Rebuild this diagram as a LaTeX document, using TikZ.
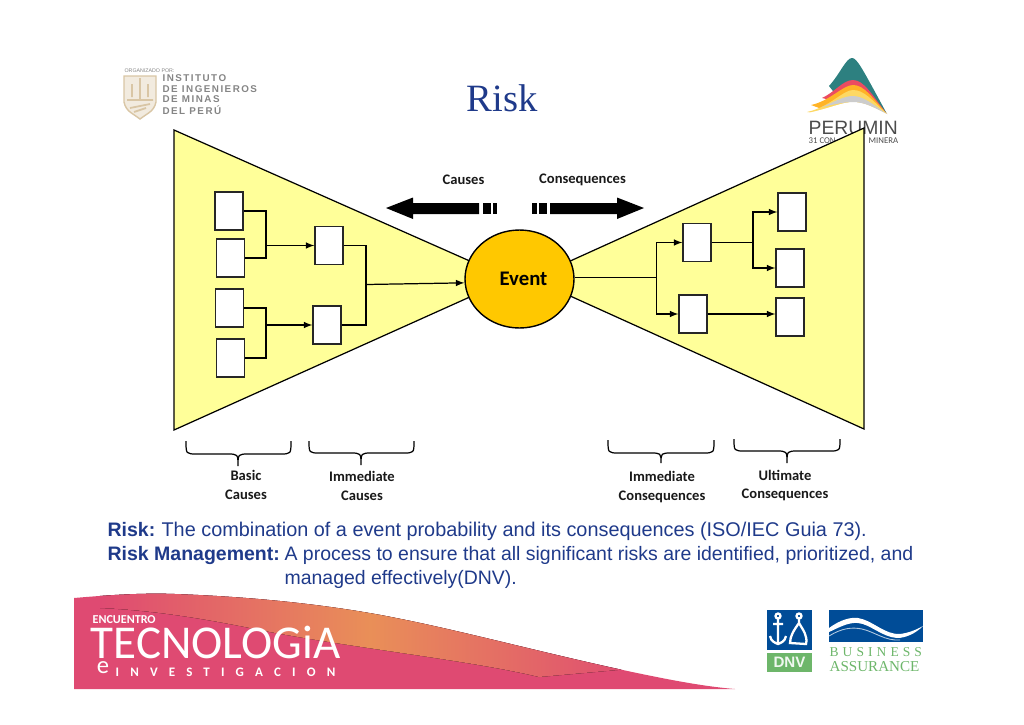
\documentclass[tikz,border=0pt]{standalone}
\usepackage{fontspec}
\usepackage{xcolor}
\usetikzlibrary{positioning,shapes,calc}
\setmainfont{Liberation Sans}
\newfontfamily\calfont{Carlito}
\newfontfamily\serfont{Liberation Serif}
\newfontfamily\logofont[LetterSpace=15]{Liberation Sans}
\newfontfamily\wavefont[LetterSpace=86]{Carlito}
\newfontfamily\busfont[LetterSpace=30]{Liberation Serif}
\definecolor{wedgeyellow}{HTML}{FFFF99}
\definecolor{eventgold}{HTML}{FFC800}
\definecolor{navytext}{HTML}{1F3A8A}
\definecolor{logogray}{HTML}{858585}
\definecolor{cresttan}{HTML}{D9C6A5}
\definecolor{bandpink}{HTML}{DF4A72}
\definecolor{bandorange}{HTML}{E98F58}
\definecolor{dnvblue}{HTML}{004C97}
\definecolor{dnvgreen}{HTML}{6DB66A}
\tikzset{
  wedge/.style={draw=black, line width=0.7pt, fill=wedgeyellow},
  riskbox/.style={draw=black!85, line width=0.7pt, fill=white, rectangle, inner sep=0pt,
    minimum width=0.56cm, minimum height=0.76cm},
  lbl/.style={font=\calfont\bfseries\fontsize{8.3}{10}\selectfont, align=center, text=black!90},
  body/.style={anchor=base west, inner sep=0pt, text=navytext, font=\fontsize{11.08}{13}\selectfont},
  bodyb/.style={body, font=\bfseries\fontsize{11.1}{13}\selectfont},
  insttext/.style={anchor=west, inner sep=0pt, text=logogray, font=\logofont\bfseries\fontsize{5.6}{6}\selectfont}
}

\begin{document}
\begin{tikzpicture}[x=0.02cm, y=-0.02cm, >=latex, line width=0.7pt]
  \useasboundingbox (0,0) rectangle (1024,724);
  \node[text=navytext, font=\serfont\fontsize{22}{26}\selectfont, inner sep=0pt] (title) at (502,98) {Risk};

  % instituto logo
  \filldraw[draw=cresttan, fill=cresttan!35, line width=0.8pt] (124,76) -- (156,76) -- (156,102)
     .. controls (154,112) and (146,114) .. (140,119) .. controls (134,114) and (126,112) .. (124,102) -- cycle;
  \draw[cresttan, line width=1pt] (140,78) -- (140,100) (127,100) -- (153,100)
     (132,84) -- (132,97) (148,84) -- (148,97) (130,108) -- (150,104) (134,112) -- (146,108);
  \node[inner sep=0pt, text=logogray, anchor=west, font=\fontsize{3}{3}\selectfont] (orgby) at (124,70.5) {ORGANIZADO POR:};
  \node[insttext] (insta) at (162,78) {INSTITUTO};
  \node[insttext] (instb) at (162,89) {DE INGENIEROS};
  \node[insttext] (instc) at (162,99.5) {DE MINAS};
  \node[insttext] (instd) at (162,110) {DEL PERÚ};

  % perumin logo
  \fill[teal!65!gray] (852,58) .. controls (857,58) and (862,68) .. (887,114) -- (840,100) -- (829,86)
     .. controls (840,74) and (846,58) .. (852,58) -- cycle;
  \fill[red!55!purple!70] (822,98) .. controls (835,92) and (843,80) .. (853,80) .. controls (864,80) and (872,95) .. (887,114) -- cycle;
  \fill[orange!70!yellow!85] (811,105) .. controls (830,101) and (843,85) .. (853,85) .. controls (864,85) and (872,97) .. (887,114) -- (830,112) -- cycle;
  \fill[yellow!55!orange!60] (807,112) .. controls (830,107) and (843,90) .. (853,90) .. controls (864,90) and (872,100) .. (887,114) -- (830,115) -- cycle;
  \fill[white] (800,116) -- (812,112) .. controls (830,108) and (843,102) .. (853,102) .. controls (865,102) and (875,108) .. (887,114) -- (890,118) -- cycle;
  \fill[black!20] (822,107) .. controls (832,103) and (843,96) .. (853,96) .. controls (864,96) and (875,106) .. (887,114)
     .. controls (875,108) and (865,102) .. (853,102) .. controls (843,102) and (832,105) .. (822,107) -- cycle;
  \node[inner sep=0pt, text=black!70, font=\fontsize{11}{12}\selectfont, anchor=west] (perumin) at (808,127.5) {PERUMIN};
  \node[inner sep=0pt, text=black!70, font=\calfont\fontsize{5}{6}\selectfont, anchor=west] (perumina) at (808,141) {31 CON};
  \node[inner sep=0pt, text=black!70, font=\calfont\fontsize{5}{6}\selectfont, anchor=west] (peruminb) at (868,141) {MINERA};

  % bow tie
  \draw[wedge] (174,130) -- (472,262) -- (472,296) -- (174,430) -- cycle;
  \draw[wedge] (864,128) -- (568,262) -- (568,295) -- (864,429) -- cycle;
  \node[draw=black, line width=0.8pt, fill=eventgold, ellipse, inner sep=0pt, minimum width=2.18cm, minimum height=1.96cm] (event) at (519.5,279) {};
  \node[font=\calfont\bfseries\fontsize{11.8}{14}\selectfont, inner sep=0pt] (eventlbl) at (523.5,278.5) {Event};

  % direction arrows
  \node[lbl] (causes) at (463.5,180) {Causes};
  \node[lbl] (conseq) at (582.5,180) {Consequences};
  \fill (386,208) -- (413,197.5) -- (413,203) -- (479,203) -- (479,214) -- (413,214) -- (413,219) -- cycle;
  \fill (644,208) -- (617,197.5) -- (617,203) -- (550,203) -- (550,214) -- (617,214) -- (617,219) -- cycle;
  \foreach \xa/\xb in {483/491,493/497,532/537,539/547}
    \fill (\xa,203) rectangle (\xb,214);

  % left boxes
  \node[riskbox] (bca) at (229,211) {};
  \node[riskbox] (bcb) at (230.5,258) {};
  \node[riskbox] (bcc) at (229.5,308) {};
  \node[riskbox] (bcd) at (230.5,358) {};
  \node[riskbox] (ica) at (329,245.5) {};
  \node[riskbox] (icb) at (327,325) {};
  \coordinate (jtop) at (266,245.5);
  \coordinate (jbot) at (266,325);
  \coordinate (jcause) at (366,284.5);
  \draw (bca.east) -| (jtop);
  \draw (bcb.east) -| (jtop);
  \draw (bcc.east) -| (jbot);
  \draw (bcd.east) -| (jbot);
  \draw[->] (jtop) -- (ica.west);
  \draw[->] (jbot) -- (icb.west);
  \draw (ica.east) -| (jcause);
  \draw (icb.east) -| (jcause);
  \draw[->] (jcause) -- (event.184);

  % right boxes
  \node[riskbox] (ra) at (697,242.5) {};
  \node[riskbox] (rb) at (693,314) {};
  \node[riskbox] (ua) at (792,212) {};
  \node[riskbox] (ub) at (790,268) {};
  \node[riskbox] (uc) at (790,317) {};
  \coordinate (jevent) at (656.5,277.5);
  \coordinate (jra) at (753,242.5);
  \draw (event.east |- jevent) -- (jevent);
  \draw[->] (jevent) |- (ra.west);
  \draw[->] (jevent) |- (rb.west);
  \draw (ra.east) -- (jra);
  \draw[->] (jra) |- (ua.west);
  \draw[->] (jra) |- (ub.west);
  \draw[->] (rb.east) -- (uc.west |- rb.east);

  % braces
  \foreach \xa/\xt/\xb/\ya/\yb/\yc in {186/238/291/441/454/466,309/361/414/441/453/465,608/661/714/440/453/463,734/787/840/439/451/463}
    \draw (\xa,\ya) .. controls (\xa,\yb) .. (\xa+11,\yb) -- (\xt-11,\yb) .. controls (\xt,\yb) .. (\xt,\yc)
       .. controls (\xt,\yb) .. (\xt+11,\yb) -- (\xb-11,\yb) .. controls (\xb,\yb) .. (\xb,\ya);
  \node[lbl] (basic) at (246,484.5) {Basic\\[0.8pt]Causes};
  \node[lbl] (imm) at (362,485.5) {Immediate\\[0.8pt]Causes};
  \node[lbl] (immc) at (662,487) {Immediate\\[0.8pt]Consequences};
  \node[lbl] (ult) at (785,485.5) {Ultimate\\[0.8pt]Consequences};

  % definitions
  \node[bodyb] (riska) at (107,536) {Risk:};
  \node[body, font=\fontsize{11.3}{13}\selectfont] (riskb) at (161,536) {The combination of a event probability and its consequences (ISO/IEC Guia 73).};
  \node[bodyb] (mgmta) at (107,560) {Risk Management:};
  \node[body] (mgmtb) at (284,560) {A process to ensure that all significant risks are identified, prioritized, and};
  \node[body] (mgmtc) at (284,584) {managed effectively(DNV).};

  % footer band
  \begin{scope}
    \clip (74,689) -- (74,598) .. controls (120,594) and (150,593) .. (175,594) .. controls (260,597) and (340,606) .. (406,620)
       .. controls (470,633) and (560,657) .. (637,673) .. controls (680,682) and (710,687) .. (735,689) -- cycle;
    \fill[bandpink] (60,590) rectangle (740,690);
    \fill[left color=bandpink, right color=bandpink, middle color=bandorange] (100,590) -- (640,590) -- (640,668)
       -- (539,677) .. controls (470,660) and (330,645) .. (250,628) .. controls (200,618) and (150,610) .. (100,608) -- cycle;
  \end{scope}
  \node[text=white, inner sep=0pt, anchor=west, font=\calfont\bfseries\fontsize{6.9}{8}\selectfont] (enc) at (92,619.5) {ENCUENTRO};
  \node[text=white, inner sep=0pt, anchor=west, font=\calfont\fontsize{26.8}{30}\selectfont] (tec) at (90,642) {TECNOLOGiA};
  \node[text=white, inner sep=0pt, font=\calfont\fontsize{14}{14}\selectfont] (invest) at (103,668) {e};
  \node[text=white, inner sep=0pt, anchor=west, font=\wavefont\bfseries\fontsize{7.4}{8}\selectfont] (inv) at (115,672) {INVESTIGACION};

  % dnv logo
  \fill[dnvblue] (767,610) rectangle (812,650);
  \fill[dnvgreen] (767,653) rectangle (812,672);
  \node[text=white!90!dnvgreen, inner sep=0pt, font=\bfseries\fontsize{8.6}{10}\selectfont] (dnv) at (789.5,662.5) {DNV};
  \draw[white, line width=1.3pt] (778,616) circle (2.5) (778,618.5) -- (778,643) (773,624) -- (783,624)
     (770,636) .. controls (771,642) and (776,643) .. (778,644) .. controls (780,643) and (785,642) .. (786,636);
  \draw[white, line width=1.3pt] (799,616) circle (2.5) (799,618.5) -- (799,623) (799,623) .. controls (794,630) and (790,636) .. (790,643)
     -- (806,644) .. controls (808,636) and (803,630) .. (799,623);
  \fill[dnvblue] (829,610) rectangle (923,642);
  \fill[white] (829,628) .. controls (840,620) and (850,617) .. (858,618) .. controls (872,620) and (885,635) .. (900,634) .. controls (908,633) and (916,630) .. (923,626)
     .. controls (915,634) and (905,638) .. (897,638) .. controls (882,637) and (870,624) .. (858,623) .. controls (848,622) and (838,628) .. (829,632) -- cycle;
  \draw[white!70!dnvblue, line width=0.5pt] (829,636) .. controls (842,628) and (852,627) .. (862,629) .. controls (875,632) and (885,641) .. (900,640);
  \node[text=dnvgreen, inner sep=0pt, anchor=west, font=\busfont\fontsize{7.7}{9}\selectfont] (bus) at (829,652.5) {BUSINESS};
  \node[text=dnvgreen, inner sep=0pt, anchor=west, font=\serfont\fontsize{8.6}{10}\selectfont] (assur) at (829,667) {ASSURANCE};
\end{tikzpicture}
\end{document}
